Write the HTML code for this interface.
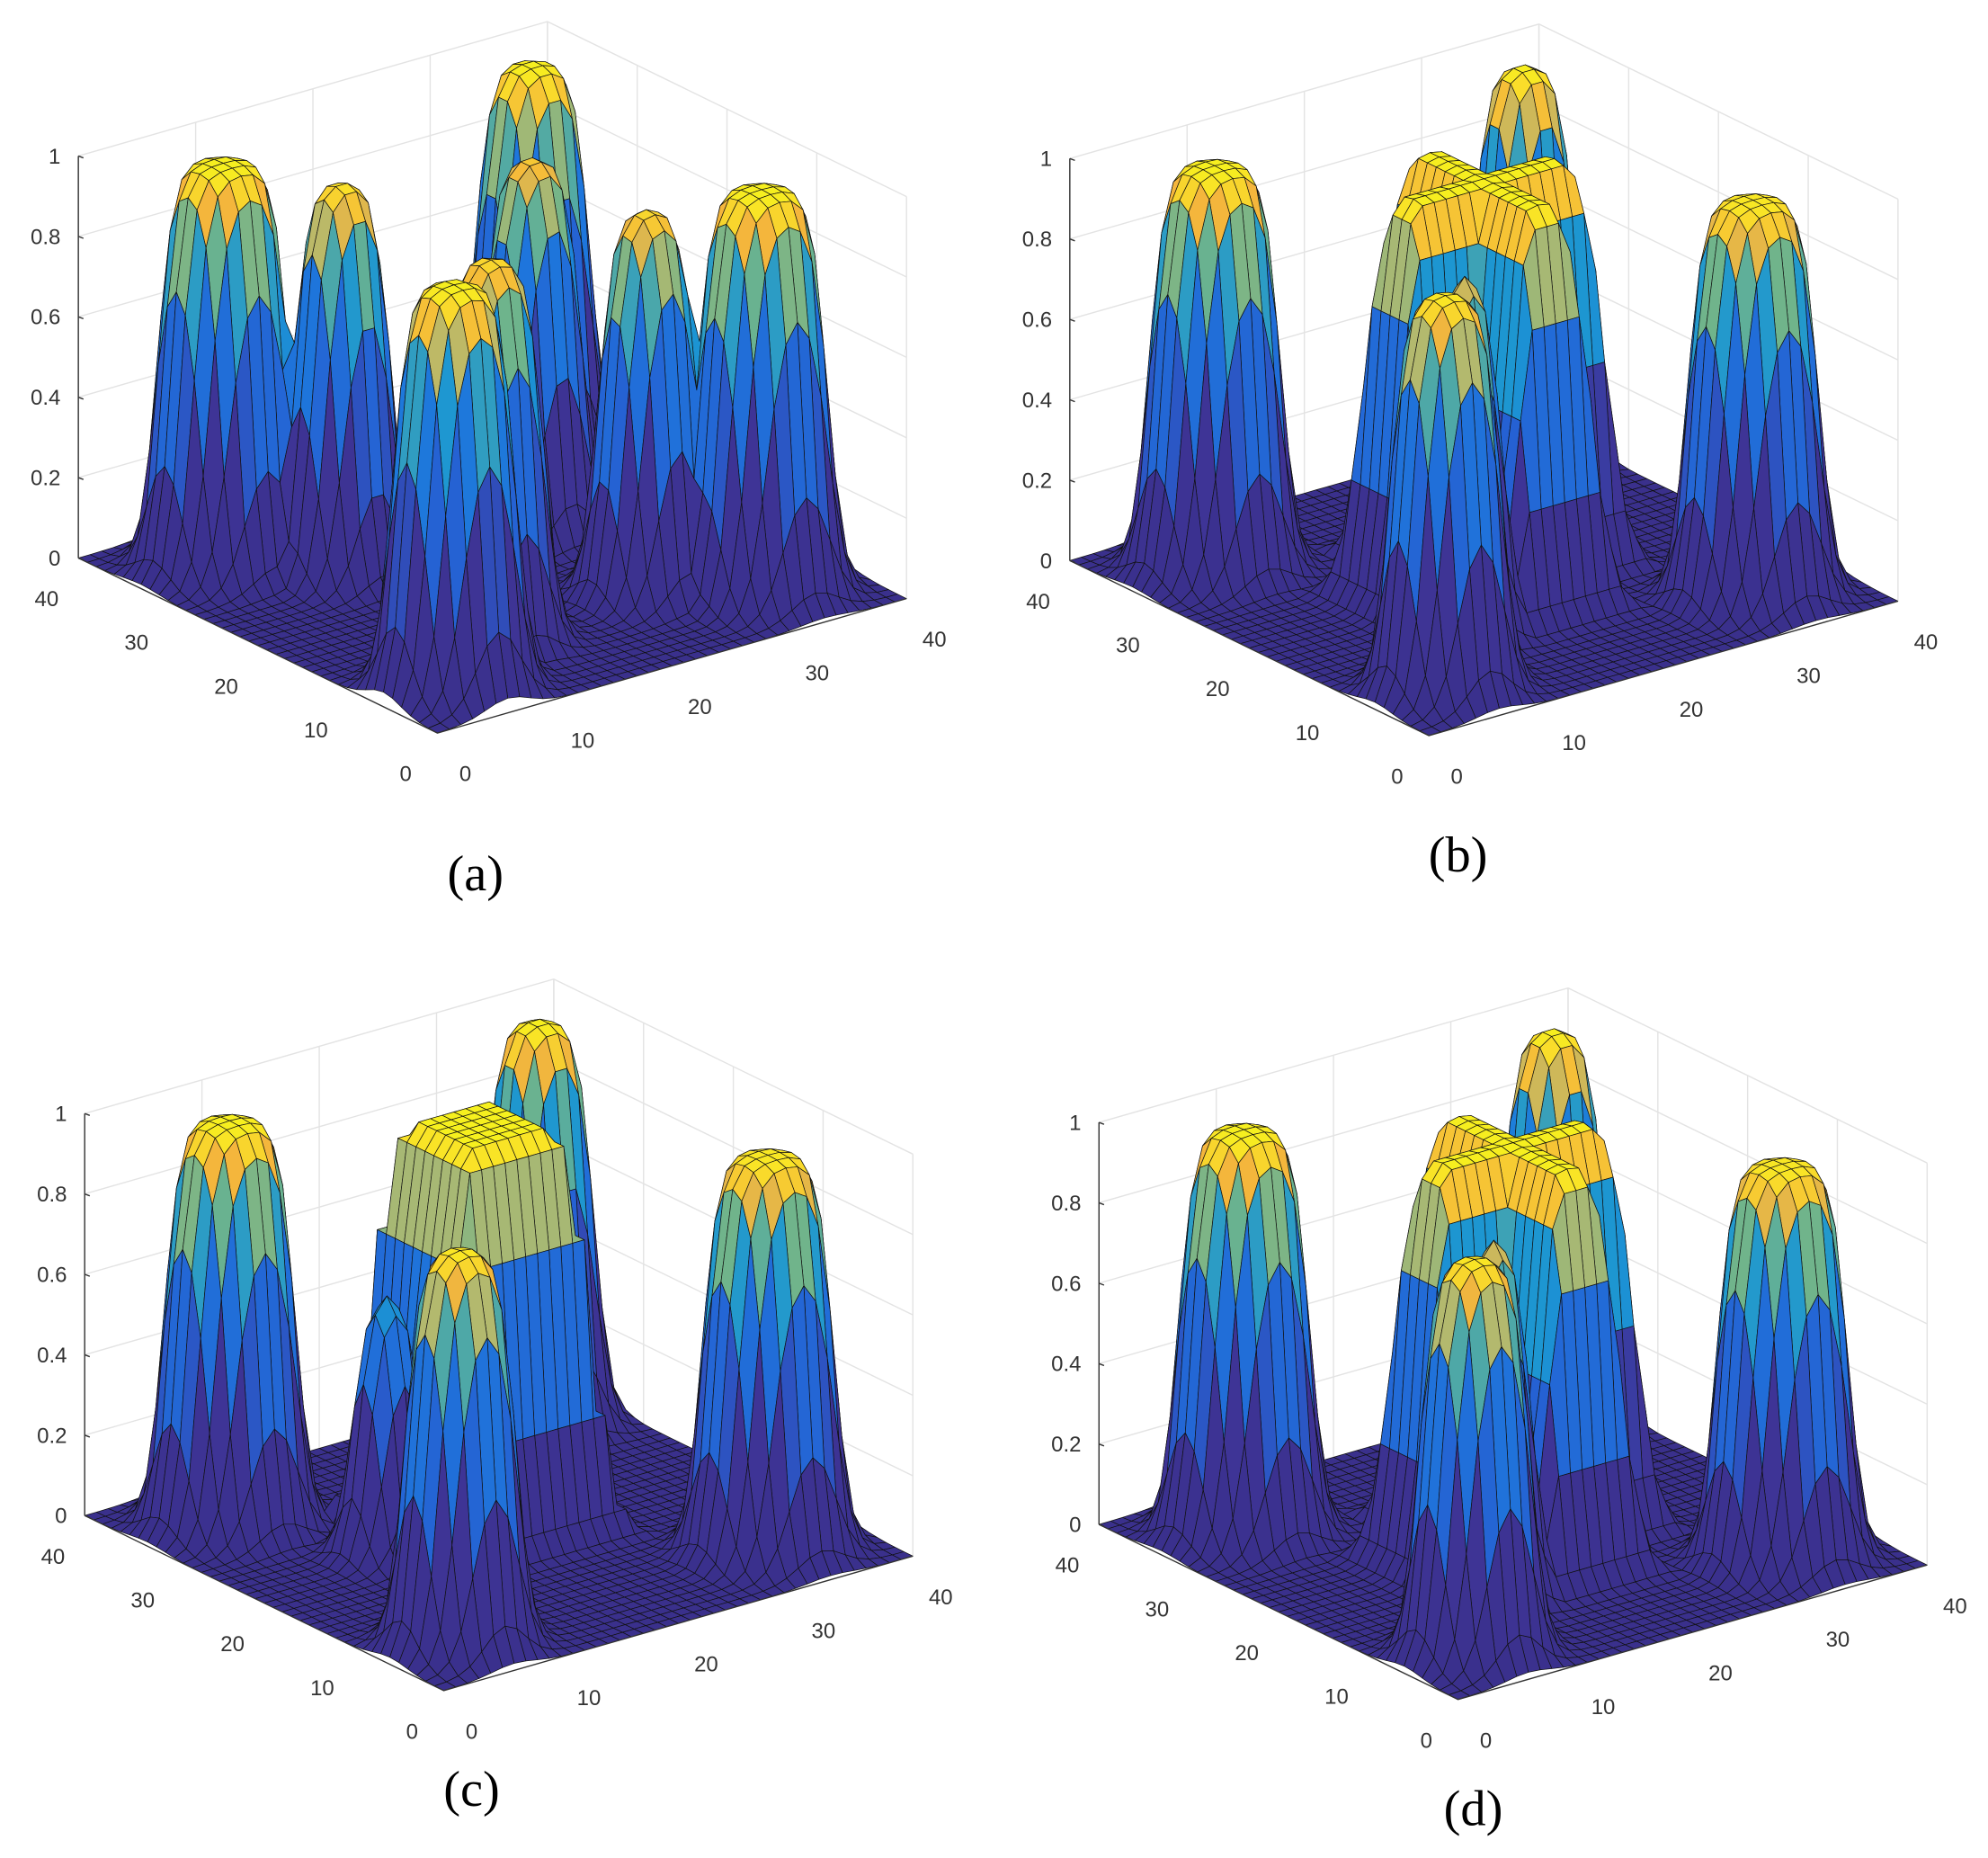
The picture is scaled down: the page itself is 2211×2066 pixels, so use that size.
<!DOCTYPE html>
<html><head><meta charset="utf-8"><style>
html,body{margin:0;padding:0;background:#fff;}
svg{display:block;}
text{font-family:"Liberation Sans",sans-serif;fill:#333;}
.lab{font-family:"Liberation Serif",serif;fill:#000;font-size:40px;}
</style></head><body>
<svg id="s" xmlns="http://www.w3.org/2000/svg" width="2211" height="2066" viewBox="0 0 1568 1465" preserveAspectRatio="none">
<rect width="1568" height="1465" fill="#fff"/>
<text class="lab" x="375" y="702" text-anchor="middle">(a)</text>
<text class="lab" x="1150" y="687" text-anchor="middle">(b)</text>
<text class="lab" x="372" y="1424" text-anchor="middle">(c)</text>
<text class="lab" x="1162" y="1439" text-anchor="middle">(d)</text>
</svg>
<script>
(function(){
var NS="http://www.w3.org/2000/svg",svg=document.getElementById('s');
function el(t,a,txt){var e=document.createElementNS(NS,t);for(var k in a)e.setAttribute(k,a[k]);if(txt!=null)e.textContent=txt;svg.appendChild(e);return e;}
var par=[[0,[58,48,140]],[0.22,[62,52,150]],[0.3,[38,96,210]],[0.5,[30,118,220]],[0.6,[28,150,210]],[0.72,[110,180,140]],[0.8,[180,185,110]],[0.88,[244,182,60]],[0.96,[250,225,40]],[1,[246,240,30]]];
function cmap(v){v=Math.max(0,Math.min(1,v));for(var i=1;i<par.length;i++){if(v<=par[i][0]){var a=par[i-1],b=par[i],t=(v-a[0])/(b[0]-a[0]);return 'rgb('+[0,1,2].map(function(k){return Math.round(a[1][k]+(b[1][k]-a[1][k])*t)}).join(',')+')';}}return 'rgb(246,240,30)';}
function sig(d){return 1/(1+Math.exp(d/0.55));}
function circ(cx,cy,R,h){return function(x,y){return h*sig(Math.hypot(x-cx,y-cy)-R);};}
function rect(cx,cy,a,b,h){return function(x,y){return h*sig(Math.max(Math.abs(x-cx)-a,Math.abs(y-cy)-b));};}
var P={
a:[circ(7,33,4.5,1),circ(12.5,27,3.4,0.97),circ(34.5,34.5,4,1),circ(27.6,25.5,3.4,0.92),circ(13,11,3.6,0.95),circ(6,6,4.2,1),circ(26.8,11.6,3.4,0.95),circ(33,7,4.5,1)],
b:[circ(7,33,4.5,1),circ(33,7,4.5,0.98),circ(34.5,34.5,3.6,1),circ(6,6,3.8,0.98),rect(20,20,8.5,3,1.02),rect(20,20,3,8.5,1.02),circ(13,13,2.6,0.9)],
c:[circ(7,33,4.5,1),circ(33,7,4.5,0.98),circ(34.5,34.5,3.8,1),circ(6,6,3.8,0.98),rect(20,22,5.5,5.5,1.02),circ(12,22,2.4,0.65)],
d:[circ(7,33,4.5,1),circ(33,7,4.5,0.98),circ(34.5,34.5,3.6,1),circ(6,6,3.8,0.98),rect(20,20,8.5,3,1.02),rect(20,20,3,8.5,1.02),circ(13,13,2.6,0.9)]
};
var OFF={a:[0,0],b:[782,2],c:[5,755],d:[805,762]};
function draw(key){
 var ox=OFF[key][0],oy=OFF[key][1],fs=P[key];
 function pr(x,y,z){return [ox+345+9.25*x-7.08*y, oy+578-2.65*x-3.45*y-317*z];}
 function f(x,y){var m=0;for(var i=0;i<fs.length;i++)m=Math.max(m,fs[i](x,y));return Math.min(m,1);}
 function pts(a){return a.map(function(p){return p[0].toFixed(1)+','+p[1].toFixed(1)}).join(' ');}
 var g='#e3e3e3';
 for(var z=0;z<=1.001;z+=0.2){el('polyline',{points:pts([pr(0,40,z),pr(40,40,z),pr(40,0,z)]),fill:'none',stroke:g,'stroke-width':1});}
 for(var t=0;t<=40;t+=10){el('line',{x1:pr(t,40,0)[0],y1:pr(t,40,0)[1],x2:pr(t,40,1)[0],y2:pr(t,40,1)[1],stroke:g,'stroke-width':1});
  el('line',{x1:pr(40,t,0)[0],y1:pr(40,t,0)[1],x2:pr(40,t,1)[0],y2:pr(40,t,1)[1],stroke:g,'stroke-width':1});}
 var N=40,Z=[];for(var i=0;i<=N;i++){Z[i]=[];for(var j=0;j<=N;j++)Z[i][j]=f(i,j);}
 var cells=[];for(var i=0;i<N;i++)for(var j=0;j<N;j++)cells.push([i,j]);
 cells.sort(function(a,b){return (b[0]+b[1])-(a[0]+a[1]) || Math.abs(b[0]-b[1])-Math.abs(a[0]-a[1]);});
 var buf='';
 cells.forEach(function(c){var i=c[0],j=c[1];
  var q=[pr(i,j,Z[i][j]),pr(i+1,j,Z[i+1][j]),pr(i+1,j+1,Z[i+1][j+1]),pr(i,j+1,Z[i][j+1])];
  var m=Math.min(Z[i][j],Z[i+1][j],Z[i+1][j+1],Z[i][j+1])*0.5+(Z[i][j]+Z[i+1][j]+Z[i+1][j+1]+Z[i][j+1])/8;
  buf+='<polygon points="'+pts(q)+'" fill="'+cmap(m)+'" stroke="#111" stroke-width="0.5" stroke-linejoin="round"/>';
 });
 var gg=document.createElementNS(NS,'g');gg.innerHTML=buf;svg.appendChild(gg);
 var ax='#333';
 var A=pr(0,40,0),B=pr(0,40,1);
 el('line',{x1:A[0],y1:A[1],x2:B[0],y2:B[1],stroke:ax,'stroke-width':1});
 el('polyline',{points:pts([pr(0,40,0),pr(0,0,0),pr(40,0,0)]),fill:'none',stroke:ax,'stroke-width':1});
 for(var k=0;k<=5;k++){var z=k/5,p=pr(0,40,z);
  el('line',{x1:p[0],y1:p[1],x2:p[0]+4,y2:p[1]+1.5,stroke:ax,'stroke-width':1});
  el('text',{x:p[0]-14,y:p[1]+6,'text-anchor':'end','font-size':17},k==0?'0':k==5?'1':z.toFixed(1));}
 for(var t=0;t<=40;t+=10){var p=pr(0,t,0);
  el('text',{x:p[0]-25,y:p[1]+38,'text-anchor':'middle','font-size':17},String(t));
  var q=pr(t,0,0);
  el('text',{x:q[0]+22,y:q[1]+38,'text-anchor':'middle','font-size':17},String(t));}
}
['a','b','c','d'].forEach(draw);
})();
</script>
</body></html>
